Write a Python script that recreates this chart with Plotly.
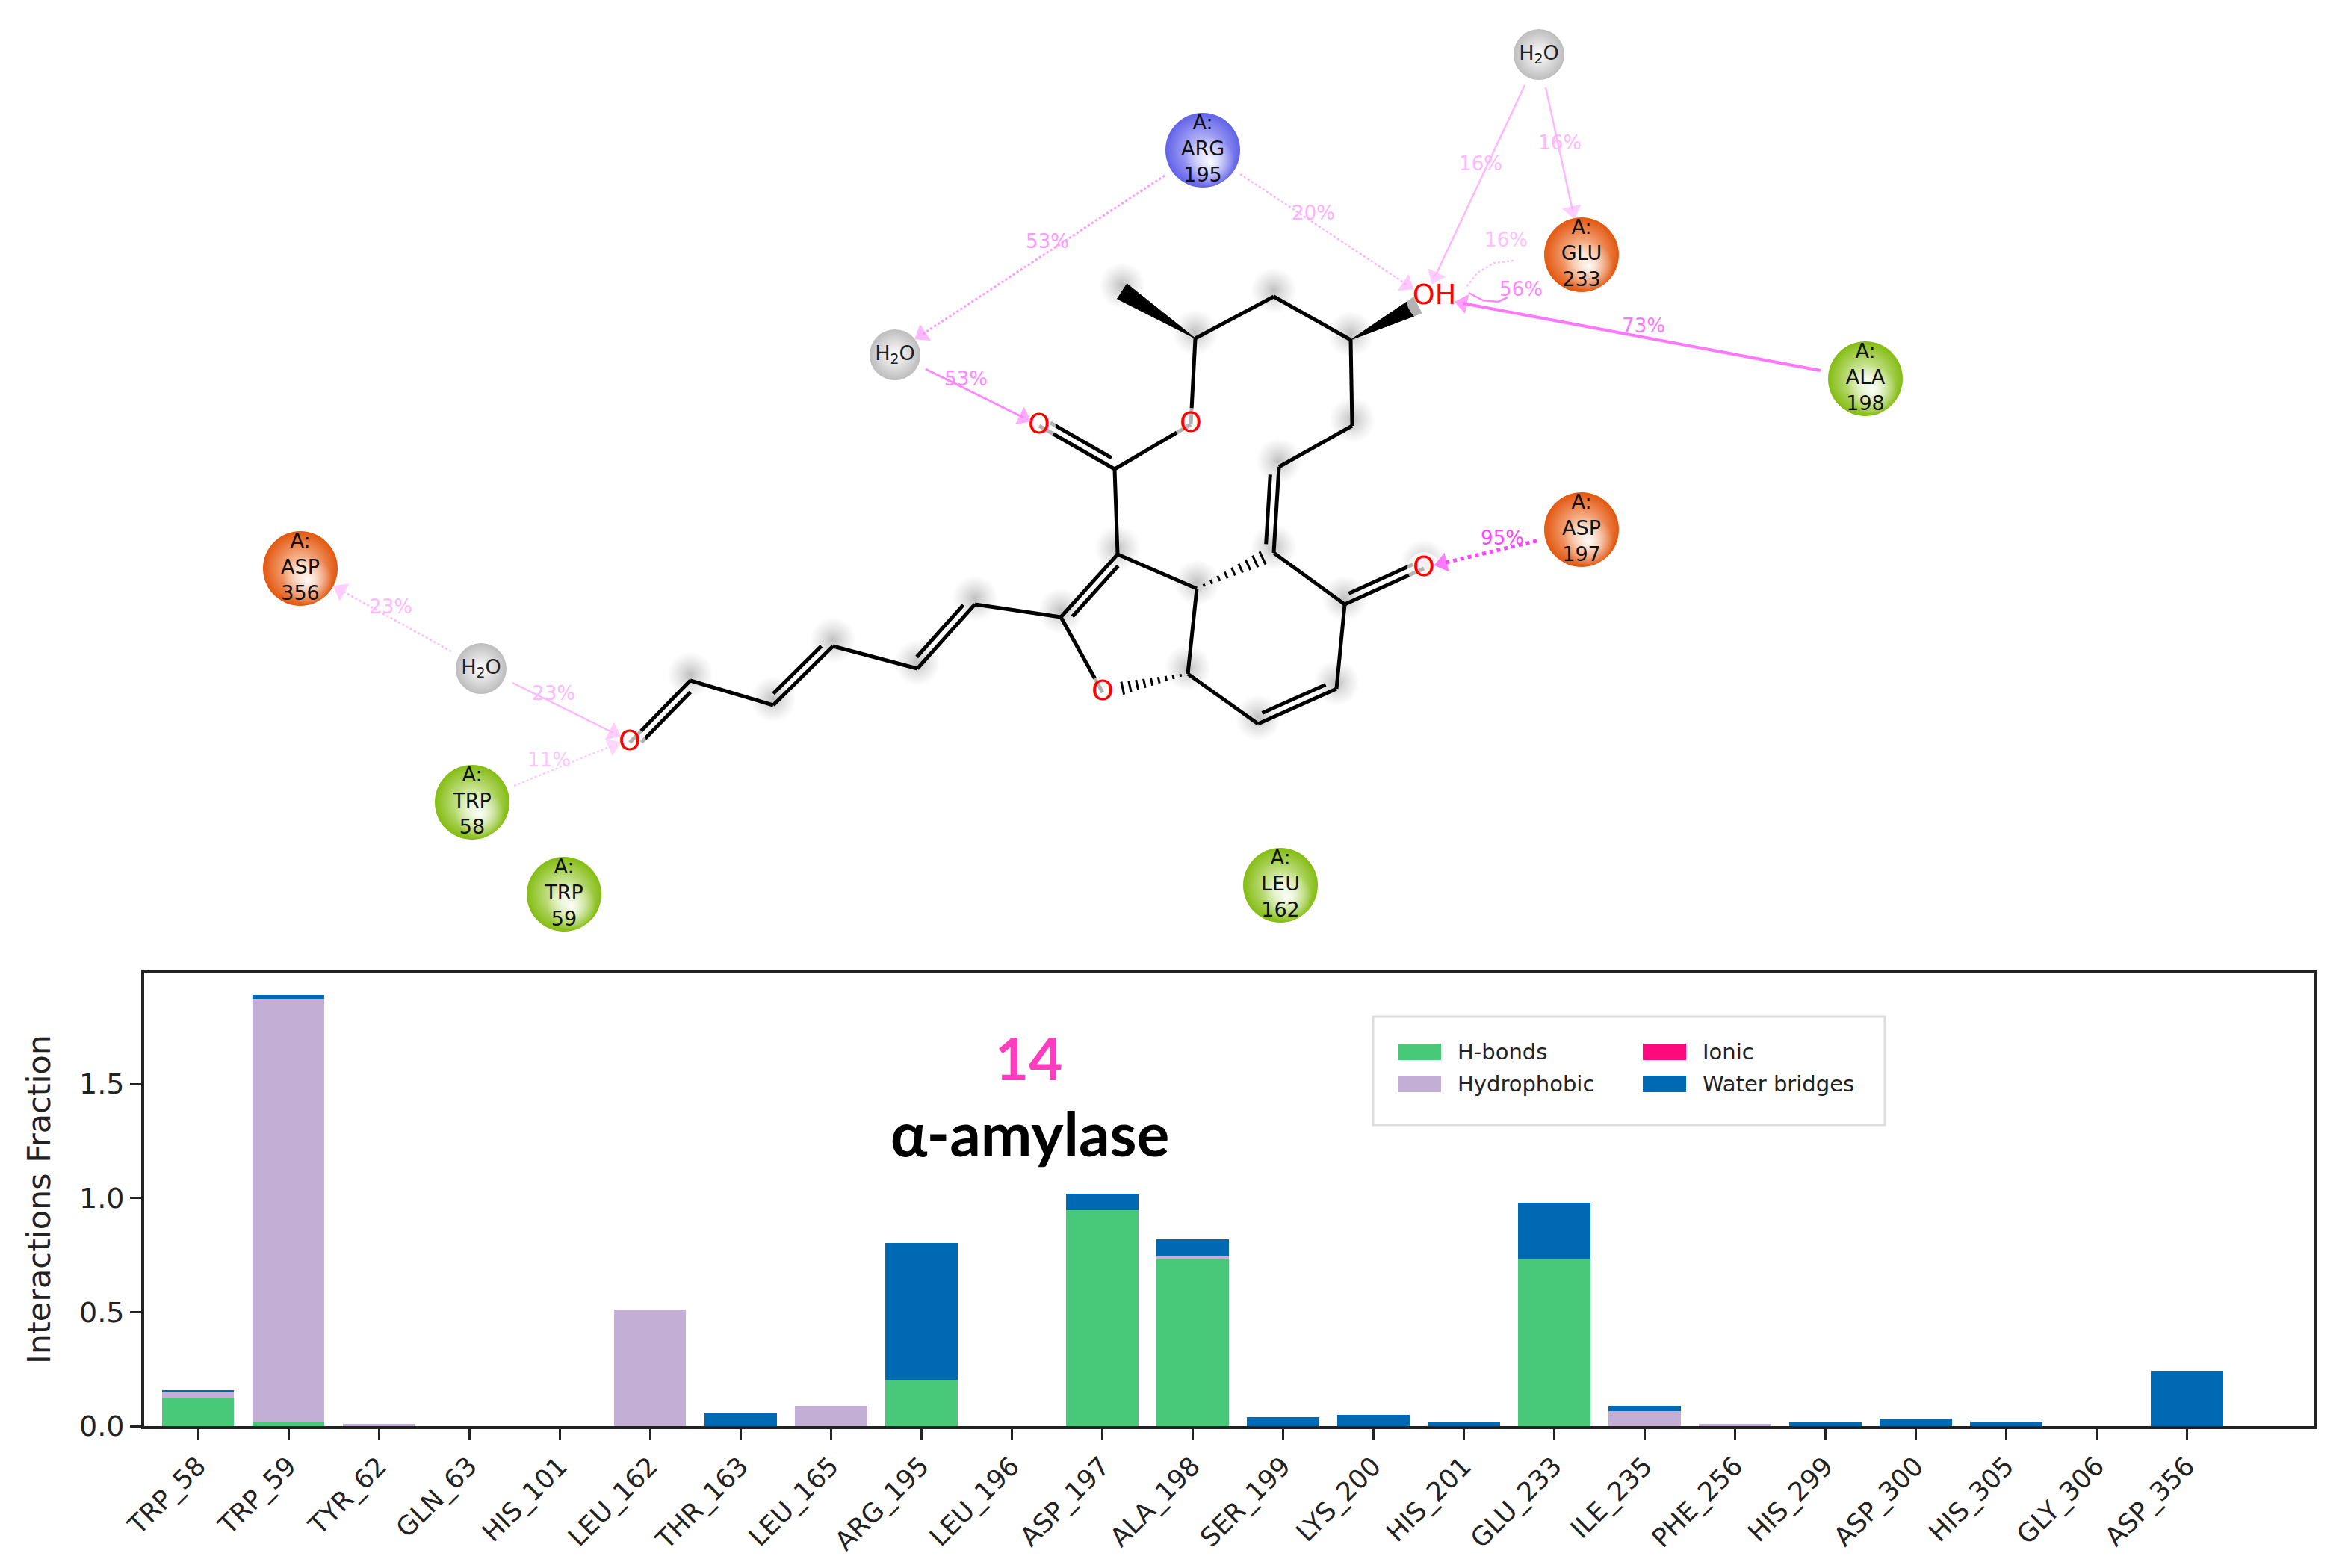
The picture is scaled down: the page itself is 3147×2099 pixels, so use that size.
import math
import plotly.graph_objects as go

# Datos del gráfico de barras (fracción de interacciones por residuo)
residues = ['TRP_58', 'TRP_59', 'TYR_62', 'GLN_63', 'HIS_101', 'LEU_162', 'THR_163', 'LEU_165',
            'ARG_195', 'LEU_196', 'ASP_197', 'ALA_198', 'SER_199', 'LYS_200', 'HIS_201', 'GLU_233',
            'ILE_235', 'PHE_256', 'HIS_299', 'ASP_300', 'HIS_305', 'GLY_306', 'ASP_356']
hbonds = [0.12, 0.015, 0, 0, 0, 0, 0, 0, 0.203, 0, 0.947, 0.733, 0, 0, 0, 0.731, 0, 0, 0, 0, 0, 0, 0]
hydrophobic = [0.027, 1.859, 0.01, 0, 0, 0.51, 0, 0.09, 0, 0, 0, 0.012, 0, 0, 0, 0, 0.065, 0.01, 0, 0, 0, 0, 0]
ionic = [0] * 23
water = [0.011, 0.015, 0, 0, 0, 0, 0.055, 0, 0.601, 0, 0.072, 0.073, 0.04, 0.05, 0.017, 0.247, 0.025, 0,
         0.017, 0.032, 0.02, 0, 0.242]

GREEN, PURPLE, PINK, BLUE = '#48C97A', '#C3AED6', '#FF0A7E', '#0069B4'
series = [('H-bonds', hbonds, GREEN), ('Hydrophobic', hydrophobic, PURPLE),
          ('Ionic', ionic, PINK), ('Water bridges', water, BLUE)]

# Átomos de la molécula (coordenadas en píxeles de la imagen)
atoms = {
    'Me': (1502, 390), 'C1': (1600, 453), 'C2': (1705, 397), 'C3': (1808, 455), 'OH': (1920, 397),
    'C4': (1810, 570), 'C5': (1712, 625), 'C6': (1705, 740), 'C7': (1800, 809), 'O7': (1906, 761),
    'C8': (1789, 922), 'C9': (1684, 969), 'C10': (1590, 902), 'C11': (1602, 788), 'C12': (1496, 742),
    'C13': (1492, 628), 'O13': (1391, 570), 'Or': (1594, 568), 'Of': (1476, 927), 'C14': (1420, 826),
    'C15': (1305, 809), 'C16': (1228, 895), 'C17': (1115, 865), 'C18': (1035, 944), 'C19': (924, 911),
    'Oa': (843, 994),
}
single_bonds = [('C1', 'C2'), ('C2', 'C3'), ('C3', 'C4'), ('C4', 'C5'), ('C1', 'Or'), ('Or', 'C13'),
                ('C13', 'C12'), ('C12', 'C11'), ('C11', 'C10'), ('C10', 'C9'), ('C8', 'C7'), ('C7', 'C6'),
                ('C14', 'Of'), ('C14', 'C15'), ('C16', 'C17'), ('C18', 'C19')]
double_bonds = [('C13', 'O13', 1), ('C7', 'O7', -1), ('C5', 'C6', 1), ('C12', 'C14', -1), ('C8', 'C9', 1),
                ('C15', 'C16', 1), ('C17', 'C18', 1), ('C19', 'Oa', -1)]
wedge_bonds = [('C1', 'Me', 1.0), ('C3', 'OH', 0.8)]
hash_bonds = [('C11', 'C6', 0.95), ('C10', 'Of', 0.85)]
halo_atoms = ['Me', 'C1', 'C2', 'C3', 'C4', 'C5', 'C6', 'C7', 'C8', 'C9', 'C10', 'C11', 'C12', 'C14', 'C15',
              'C16', 'C17', 'C18', 'C19', 'O7']
oxygen_labels = [('O7', 'O'), ('O13', 'O'), ('Or', 'O'), ('Of', 'O'), ('Oa', 'O'), ('OH', 'OH')]

# Residuos de la proteína y moléculas de agua
ORANGE = ('#E2570F', '#FFD9C2')
VIOLET = ('#6262E8', '#D4D4FF')
LIME = ('#84BC12', '#EEF9D8')
GREY = ('#BDBDBD', '#FFFFFF')
residue_nodes = [
    (1610, 201, 'A:<br>ARG<br>195', VIOLET), (2117, 341, 'A:<br>GLU<br>233', ORANGE),
    (2497, 507, 'A:<br>ALA<br>198', LIME), (2117, 709, 'A:<br>ASP<br>197', ORANGE),
    (402, 761, 'A:<br>ASP<br>356', ORANGE), (632, 1074, 'A:<br>TRP<br>58', LIME),
    (755, 1197, 'A:<br>TRP<br>59', LIME), (1714, 1185, 'A:<br>LEU<br>162', LIME),
]
water_nodes = [(2060, 73), (1198, 475), (644, 895)]

# Contactos: inicio, fin, estilo, ancho, color, porcentaje y posición de la etiqueta
contacts = [
    ((1559, 235), (1234, 448), 'dot', 3, '#FF99FF', '53%', (1402, 325)),
    ((1660, 233), (1883, 381), 'dot', 2.5, '#FFB0FF', '20%', (1758, 287)),
    ((1239, 494), (1370, 559), 'solid', 3, '#FF88FF', '53%', (1293, 509)),
    ((2041, 114), (1921, 370), 'solid', 2.5, '#FFB8FF', '16%', (1982, 221)),
    ((2069, 117), (2105, 282), 'solid', 2.5, '#FFB8FF', '16%', (2088, 193)),
    ((2437, 496), (1958, 406), 'solid', 4, '#FF77FF', '73%', (2200, 438)),
    ((2057, 724), (1931, 754), 'dot', 5, '#FF44FF', '95%', (2011, 722)),
    ((604, 872), (456, 790), 'dot', 2.5, '#FFB8FF', '23%', (523, 814)),
    ((686, 914), (821, 981), 'solid', 2.5, '#FFB8FF', '23%', (741, 930)),
    ((688, 1052), (820, 998), 'dot', 2.5, '#FFC8FF', '11%', (735, 1019)),
]
curved_contacts = [
    ([2026, 2000, 1978, 1961], [349, 352, 365, 386], 'dot', '#FFC0FF', '16%', (2016, 323)),
    ([1966, 1985, 2005, 2018], [392, 402, 404, 398], 'solid', '#FF88FF', '56%', (2036, 389)),
]

fig = go.Figure()

# Barras apiladas
for name, values, color in series:
    fig.add_trace(go.Bar(x=residues, y=values, name=name, marker=dict(color=color, line_width=0),
                         width=0.8, showlegend=False, xaxis='x', yaxis='y'))


def overlay(trace):
    trace.update(xaxis='x2', yaxis='y2', showlegend=False, hoverinfo='skip')
    fig.add_trace(trace)


def line(x, y, width=4, color='black', dash='solid'):
    overlay(go.Scatter(x=x, y=y, mode='lines', line=dict(color=color, width=width, dash=dash)))


# Sombras grises sobre los átomos
overlay(go.Scatter(
    x=[atoms[a][0] for a in halo_atoms], y=[atoms[a][1] - 8 for a in halo_atoms], mode='markers',
    marker=dict(size=62, color='rgba(190,190,190,0)', line_width=0,
                gradient=dict(type='radial', color='rgba(165,165,165,0.7)'))
))

# Enlaces
for a, b in single_bonds:
    line([atoms[a][0], atoms[b][0]], [atoms[a][1], atoms[b][1]], width=5)

for a, b, side in double_bonds:
    (x0, y0), (x1, y1) = atoms[a], atoms[b]
    length = math.hypot(x1 - x0, y1 - y0)
    nx, ny = -(y1 - y0) / length * 11 * side, (x1 - x0) / length * 11 * side
    ux, uy = (x1 - x0) / length * 11, (y1 - y0) / length * 11
    line([x0, x1], [y0, y1], width=5)
    line([x0 + nx + ux, x1 + nx - ux], [y0 + ny + uy, y1 + ny - uy], width=5)

for a, b, reach in wedge_bonds:
    (x0, y0), (x1, y1) = atoms[a], atoms[b]
    x1, y1 = x0 + (x1 - x0) * reach, y0 + (y1 - y0) * reach
    length = math.hypot(x1 - x0, y1 - y0)
    nx, ny = -(y1 - y0) / length * 12, (x1 - x0) / length * 12
    overlay(go.Scatter(x=[x0, x1 + nx, x1 - nx, x0], y=[y0, y1 + ny, y1 - ny, y0], mode='lines',
                       fill='toself', fillcolor='black', line=dict(color='black', width=1)))

for a, b, reach in hash_bonds:
    (x0, y0), (x1, y1) = atoms[a], atoms[b]
    length = math.hypot(x1 - x0, y1 - y0)
    nx, ny = -(y1 - y0) / length, (x1 - x0) / length
    for i in range(1, 10):
        t = i / 10 * reach
        half = 1 + t * 10
        cx, cy = x0 + (x1 - x0) * t, y0 + (y1 - y0) * t
        line([cx + nx * half, cx - nx * half], [cy + ny * half, cy - ny * half], width=3)

# Etiquetas de oxígeno
overlay(go.Scatter(
    x=[atoms[a][0] for a, _ in oxygen_labels], y=[atoms[a][1] for a, _ in oxygen_labels],
    text=[t for _, t in oxygen_labels], mode='markers+text', textposition='middle center',
    textfont=dict(family='DejaVu Sans', size=38, color='#FF0000'),
    marker=dict(size=[44, 44, 44, 44, 44, 76], color='white', line_width=0)
))

# Contactos con flecha
for start, end, dash, width, color, label, pos in contacts:
    overlay(go.Scatter(
        x=[start[0], end[0]], y=[start[1], end[1]], mode='lines+markers',
        line=dict(color=color, width=width, dash=dash),
        marker=dict(symbol='triangle-up', angleref='previous', size=[0, 23], color=color, line_width=0)
    ))
for x, y, dash, color, label, pos in curved_contacts:
    line(x, y, width=2.5, color=color, dash=dash)

labels = [(c[6], c[5], c[4]) for c in contacts] + [(c[5], c[4], c[3]) for c in curved_contacts]
overlay(go.Scatter(
    x=[p[0] for p, _, _ in labels], y=[p[1] for p, _, _ in labels], text=[t for _, t, _ in labels],
    mode='text', textposition='middle center',
    textfont=dict(family='DejaVu Sans', size=26, color=[c for _, _, c in labels])
))

# Esferas de residuos y aguas
for x, y, label, (outer, inner) in residue_nodes:
    overlay(go.Scatter(x=[x], y=[y], mode='markers',
                       marker=dict(size=100, color=outer, line_width=0,
                                   gradient=dict(type='radial', color=inner))))
    overlay(go.Scatter(x=[x + 10], y=[y + 16], mode='markers',
                       marker=dict(size=66, color='rgba(255,255,255,0)', line_width=0,
                                   gradient=dict(type='radial', color='rgba(255,255,255,0.95)'))))
for x, y in water_nodes:
    overlay(go.Scatter(x=[x], y=[y], mode='markers',
                       marker=dict(size=68, color=GREY[0], line_width=0,
                                   gradient=dict(type='radial', color=GREY[1]))))
overlay(go.Scatter(
    x=[n[0] for n in residue_nodes], y=[n[1] for n in residue_nodes], text=[n[2] for n in residue_nodes],
    mode='text', textposition='middle center', textfont=dict(family='DejaVu Sans', size=27, color='#111111')
))
overlay(go.Scatter(
    x=[n[0] for n in water_nodes], y=[n[1] for n in water_nodes], text=['H<sub>2</sub>O'] * len(water_nodes),
    mode='text', textposition='middle center', textfont=dict(family='DejaVu Sans', size=27, color='#222222')
))

# Leyenda dibujada a mano (las muestras de Plotly no cambian de tamaño)
shapes = [dict(type='rect', xref='x2', yref='y2', x0=1838, x1=2523, y0=1361, y1=1506,
               line=dict(color='#DDDDDD', width=3), fillcolor='white', layer='above')]
annotations = []
legend_slots = [(1871, 1408), (1871, 1451), (2199, 1408), (2199, 1451)]
for (name, _, color), (lx, ly) in zip(series, legend_slots):
    shapes.append(dict(type='rect', xref='x2', yref='y2', x0=lx, x1=lx + 58, y0=ly - 11, y1=ly + 11,
                       line_width=0, fillcolor=color, layer='above'))
    annotations.append(dict(xref='x2', yref='y2', x=lx + 78, y=ly, text=name, showarrow=False, xanchor='left',
                            font=dict(family='DejaVu Sans', size=29, color='#222222')))

# Títulos del panel
annotations.append(dict(xref='x2', yref='y2', x=1377, y=1416, text='<b>14</b>', showarrow=False,
                        font=dict(family='Lato', size=78, color='#FF3DBE')))
annotations.append(dict(xref='x2', yref='y2', x=1378, y=1516, text='<b>α-amylase</b>', showarrow=False,
                        font=dict(family='Lato', size=82, color='black')))

fig.update_layout(
    width=3147, height=2099, margin=dict(l=0, r=0, t=0, b=0, autoexpand=False),
    paper_bgcolor='white', plot_bgcolor='rgba(0,0,0,0)', barmode='stack', showlegend=False,
    font=dict(family='DejaVu Sans', color='#222222'), shapes=shapes, annotations=annotations,
    xaxis=dict(domain=[193 / 3147, 3098 / 3147], range=[-0.595, 23.41], tickangle=-45, ticks='outside',
               ticklen=15, tickwidth=3, tickcolor='#222222', tickfont=dict(size=35), showline=True, linewidth=4,
               linecolor='#222222', mirror=True, showgrid=False, zeroline=False, tickmode='array',
               tickvals=residues, ticktext=residues, categoryorder='array', categoryarray=residues,
               automargin=False),
    yaxis=dict(domain=[1 - 1909 / 2099, 1 - 1302 / 2099], range=[0, 1.988], tickvals=[0, 0.5, 1, 1.5],
               ticktext=['0.0', '0.5', '1.0', '1.5'], ticks='outside', ticklen=15, tickwidth=3,
               tickcolor='#222222', tickfont=dict(size=38), showline=True, linewidth=4, linecolor='#222222',
               mirror=True, showgrid=False, zeroline=False, automargin=False,
               title=dict(text='Interactions Fraction', font=dict(size=43), standoff=26)),
    xaxis2=dict(domain=[0, 1], range=[0, 3147], visible=False, anchor='y2', automargin=False),
    yaxis2=dict(domain=[0, 1], range=[2099, 0], visible=False, anchor='x2', automargin=False),
)

fig.write_html("out.html", config=dict(displayModeBar=False),
               post_script="document.body.style.margin='0';")
